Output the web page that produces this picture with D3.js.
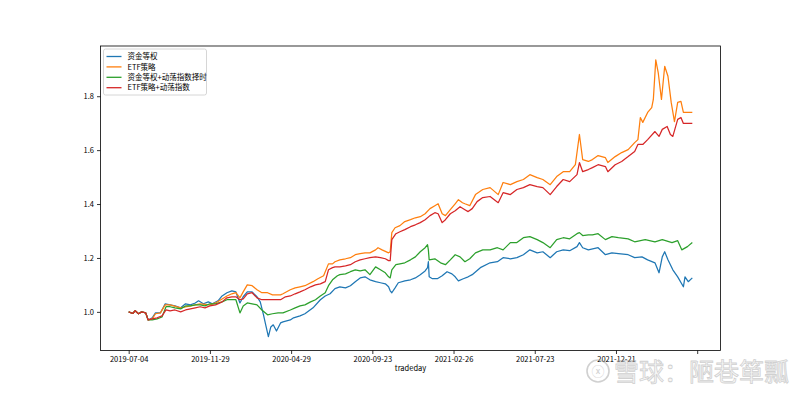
<!DOCTYPE html>
<html>
<head>
<meta charset="utf-8">
<script src="https://cdn.jsdelivr.net/npm/d3@7"></script>
<style>
  body { margin: 0; background: #fff; }
  svg { display: block; font-family: "Noto Sans CJK SC", sans-serif; }
</style>
</head>
<body>
<div id="chart"></div>
<script>
// x is the trading-day index, tick labels are the dates at every 100th day
const tickIdx = [0, 100, 200, 300, 400, 500, 600, 700]
const tickDates = ['2019-07-04', '2019-11-29', '2020-04-29', '2020-09-23', '2021-02-26', '2021-07-23', '2021-12-21', '']

const names = ['资金等权', 'ETF策略', '资金等权+动荡指数择时', 'ETF策略+动荡指数']
const colors = ['#1f77b4', '#ff7f0e', '#2ca02c', '#d62728']

// [trading-day index, net value]
const equalWeight = [[0,1.000],[5,0.994],[8,1.004],[12,0.993],[16,1.000],[21,0.996],[24,0.970],[29,0.978],[33,0.996],[39,0.996],[45,1.030],[51,1.026],[57,1.022],[64,1.015],[70,1.030],[76,1.026],[82,1.033],[86,1.041],[92,1.030],[98,1.037],[103,1.030],[110,1.041],[115,1.059],[121,1.071],[127,1.078],[132,1.074],[137,1.033],[141,1.056],[146,1.074],[152,1.074],[158,1.056],[162,1.037],[166,0.989],[169,0.948],[172,0.908],[175,0.944],[178,0.952],[182,0.929],[187,0.959],[190,0.963],[199,0.970],[203,0.978],[211,0.985],[217,0.993],[227,1.015],[236,1.045],[242,1.059],[248,1.067],[254,1.086],[260,1.093],[267,1.089],[273,1.097],[279,1.112],[285,1.126],[291,1.130],[297,1.119],[304,1.112],[310,1.108],[316,1.104],[320,1.093],[322,1.078],[324,1.071],[328,1.089],[332,1.108],[340,1.115],[347,1.119],[353,1.126],[359,1.138],[365,1.152],[368,1.164],[369,1.186],[370,1.130],[374,1.123],[380,1.123],[386,1.134],[392,1.149],[398,1.141],[402,1.130],[406,1.115],[412,1.123],[418,1.130],[423,1.138],[433,1.164],[445,1.182],[454,1.186],[461,1.201],[470,1.197],[478,1.201],[486,1.212],[494,1.230],[503,1.219],[510,1.223],[519,1.201],[527,1.223],[535,1.230],[543,1.227],[552,1.242],[555,1.257],[559,1.238],[566,1.230],[578,1.238],[587,1.212],[595,1.219],[603,1.216],[615,1.212],[623,1.201],[632,1.204],[639,1.193],[648,1.182],[653,1.145],[657,1.204],[660,1.223],[664,1.193],[670,1.156],[676,1.130],[683,1.093],[685,1.130],[689,1.112],[694,1.126]]

const etf = [[0,1.000],[5,0.994],[8,1.004],[12,0.993],[16,1.000],[21,0.996],[24,0.970],[29,0.974],[33,0.993],[39,0.996],[45,1.026],[51,1.026],[64,1.015],[76,1.022],[88,1.030],[100,1.026],[107,1.033],[115,1.048],[121,1.059],[127,1.067],[132,1.071],[137,1.052],[141,1.074],[146,1.100],[152,1.097],[158,1.082],[164,1.071],[171,1.071],[177,1.063],[187,1.063],[190,1.067],[199,1.082],[205,1.089],[211,1.093],[217,1.097],[227,1.112],[233,1.123],[240,1.134],[246,1.178],[251,1.178],[254,1.186],[260,1.193],[267,1.197],[273,1.201],[279,1.212],[285,1.216],[291,1.219],[297,1.219],[304,1.230],[307,1.238],[312,1.230],[320,1.219],[322,1.223],[324,1.294],[328,1.312],[334,1.320],[340,1.335],[347,1.342],[353,1.349],[359,1.353],[365,1.364],[371,1.383],[377,1.394],[381,1.401],[386,1.364],[390,1.357],[396,1.379],[402,1.401],[406,1.416],[411,1.405],[414,1.401],[420,1.394],[427,1.435],[436,1.454],[445,1.461],[455,1.435],[461,1.480],[470,1.472],[478,1.483],[486,1.491],[494,1.509],[503,1.498],[510,1.491],[519,1.472],[527,1.502],[535,1.520],[543,1.520],[550,1.546],[555,1.658],[559,1.565],[566,1.558],[571,1.565],[578,1.580],[587,1.572],[590,1.554],[599,1.576],[607,1.591],[615,1.602],[623,1.628],[627,1.639],[630,1.721],[633,1.703],[639,1.740],[644,1.758],[646,1.788],[649,1.935],[652,1.888],[656,1.788],[660,1.911],[664,1.874],[668,1.777],[672,1.706],[676,1.777],[680,1.781],[683,1.740],[694,1.740]]

const equalWeightTimed = [[0,1.000],[5,0.994],[8,1.004],[12,0.993],[16,1.000],[21,0.996],[24,0.970],[29,0.970],[35,0.974],[41,0.981],[46,1.019],[51,1.019],[57,1.015],[64,1.011],[70,1.022],[76,1.022],[82,1.026],[88,1.026],[94,1.022],[100,1.030],[107,1.030],[115,1.037],[121,1.045],[127,1.045],[132,1.045],[137,0.996],[141,1.022],[146,1.033],[152,1.030],[158,1.026],[164,1.007],[171,0.989],[177,0.993],[184,0.996],[190,0.996],[199,1.007],[205,1.015],[211,1.022],[217,1.026],[224,1.037],[230,1.045],[236,1.059],[242,1.071],[246,1.097],[251,1.119],[257,1.134],[260,1.138],[267,1.141],[273,1.149],[279,1.156],[285,1.152],[291,1.156],[297,1.138],[304,1.167],[310,1.156],[316,1.145],[320,1.130],[322,1.126],[324,1.156],[329,1.175],[334,1.178],[340,1.182],[347,1.193],[353,1.204],[359,1.223],[365,1.238],[368,1.249],[369,1.230],[370,1.193],[377,1.197],[384,1.182],[390,1.175],[396,1.193],[402,1.212],[408,1.204],[414,1.186],[420,1.197],[427,1.219],[436,1.230],[445,1.230],[454,1.238],[461,1.230],[470,1.257],[478,1.257],[486,1.275],[494,1.279],[503,1.268],[510,1.257],[519,1.238],[527,1.268],[535,1.275],[543,1.271],[552,1.290],[555,1.294],[559,1.283],[566,1.286],[571,1.286],[578,1.290],[587,1.268],[595,1.279],[603,1.275],[615,1.271],[623,1.260],[636,1.268],[648,1.260],[657,1.268],[669,1.257],[676,1.264],[681,1.230],[688,1.242],[694,1.257]]

const etfTimed = [[0,1.000],[5,0.994],[8,1.004],[12,0.993],[16,1.000],[21,0.996],[24,0.970],[29,0.974],[35,0.978],[41,0.985],[46,1.007],[51,1.004],[57,1.007],[64,1.000],[70,1.007],[76,1.011],[82,1.015],[88,1.019],[94,1.015],[100,1.022],[107,1.026],[115,1.037],[121,1.052],[127,1.056],[132,1.056],[137,1.045],[141,1.048],[146,1.067],[152,1.071],[158,1.052],[164,1.045],[171,1.045],[177,1.045],[187,1.045],[193,1.056],[199,1.059],[205,1.067],[211,1.074],[217,1.082],[224,1.093],[230,1.100],[236,1.104],[242,1.112],[246,1.156],[251,1.164],[254,1.167],[260,1.167],[267,1.171],[273,1.175],[279,1.186],[285,1.193],[291,1.197],[297,1.201],[304,1.204],[310,1.201],[316,1.197],[320,1.190],[322,1.190],[324,1.268],[329,1.290],[334,1.297],[340,1.305],[347,1.316],[353,1.323],[359,1.331],[365,1.342],[371,1.357],[377,1.368],[381,1.364],[386,1.331],[390,1.342],[396,1.364],[402,1.375],[408,1.390],[414,1.379],[418,1.372],[423,1.383],[429,1.409],[436,1.424],[445,1.428],[455,1.405],[461,1.442],[470,1.435],[478,1.454],[486,1.461],[494,1.472],[503,1.465],[510,1.461],[519,1.435],[527,1.465],[535,1.491],[543,1.483],[552,1.509],[555,1.554],[559,1.520],[566,1.528],[571,1.535],[578,1.546],[587,1.539],[590,1.520],[599,1.546],[607,1.558],[615,1.576],[623,1.595],[627,1.621],[633,1.621],[639,1.639],[648,1.669],[653,1.651],[657,1.677],[663,1.688],[667,1.658],[670,1.651],[676,1.714],[680,1.721],[683,1.699],[694,1.699]]

const series = [equalWeight, etf, equalWeightTimed, etfTimed]

const W = 800, H = 394
const margin = { left: 100.5, right: 79.5, top: 46, bottom: 43.5 }

const svg = d3.select('#chart').append('svg')
  .attr('width', W).attr('height', H)

// matplotlib-like 5% padding around the data
const xExt = [0, d3.max(series, s => d3.max(s, d => d[0]))]
const yExt = [d3.min(series, s => d3.min(s, d => d[1])), d3.max(series, s => d3.max(s, d => d[1]))]
const xPad = (xExt[1] - xExt[0]) * 0.05, yPad = (yExt[1] - yExt[0]) * 0.05

const x = d3.scaleLinear()
  .domain([xExt[0] - xPad, xExt[1] + xPad])
  .range([margin.left, W - margin.right])
const y = d3.scaleLinear()
  .domain([yExt[0] - yPad, yExt[1] + yPad])
  .range([H - margin.bottom, margin.top])

const line = d3.line().x(d => x(d[0])).y(d => y(d[1]))

svg.append('g').selectAll('path')
  .data(series)
  .join('path')
    .attr('d', line)
    .attr('fill', 'none')
    .attr('stroke', (d, i) => colors[i])
    .attr('stroke-width', 1.25)
    .attr('stroke-linejoin', 'round')

// axes
const xAxis = svg.append('g')
  .attr('transform', `translate(0,${H - margin.bottom})`)
  .call(d3.axisBottom(x).tickValues(tickIdx).tickFormat((d, i) => tickDates[i]).tickSize(3.5).tickPadding(3))
const yAxis = svg.append('g')
  .attr('transform', `translate(${margin.left},0)`)
  .call(d3.axisLeft(y).tickValues([1.0, 1.2, 1.4, 1.6, 1.8]).tickFormat(d3.format('.1f')).tickSize(3.5).tickPadding(3))

for (const g of [xAxis, yAxis]) {
  g.select('.domain').remove()
  g.selectAll('.tick line').attr('stroke', '#000').attr('stroke-width', 0.8)
  g.selectAll('.tick text').attr('fill', '#000').attr('font-size', 7.5)
    .attr('font-family', '"Noto Sans CJK SC", sans-serif')
}

// frame
svg.append('rect')
  .attr('x', margin.left).attr('y', margin.top)
  .attr('width', W - margin.left - margin.right)
  .attr('height', H - margin.top - margin.bottom)
  .attr('fill', 'none').attr('stroke', '#000').attr('stroke-width', 0.8)

svg.append('text')
  .attr('x', (margin.left + W - margin.right) / 2)
  .attr('y', 371)
  .attr('text-anchor', 'middle')
  .attr('font-size', 7.5)
  .text('tradeday')

// legend
const lg = svg.append('g').attr('transform', `translate(${margin.left + 3},49)`)
lg.append('rect')
  .attr('width', 103).attr('height', 46).attr('rx', 2)
  .attr('fill', '#fff').attr('fill-opacity', 0.8)
  .attr('stroke', '#ccc').attr('stroke-width', 0.8)
const items = lg.selectAll('g.item').data(names).join('g')
  .attr('class', 'item')
  .attr('transform', (d, i) => `translate(0,${7.5 + i * 10.4})`)
items.append('line')
  .attr('x1', 3).attr('x2', 18)
  .attr('stroke', (d, i) => colors[i]).attr('stroke-width', 1.3)
items.append('text')
  .attr('x', 24).attr('dy', '0.35em')
  .attr('font-size', 7.5)
  .text(d => d)

// watermark
const wm = svg.append('g').attr('opacity', 0.45)
wm.append('circle').attr('cx', 598).attr('cy', 371).attr('r', 11)
  .attr('fill', 'none').attr('stroke', '#999').attr('stroke-width', 1.6)
wm.append('text').attr('x', 598).attr('y', 371).attr('dy', '0.35em')
  .attr('text-anchor', 'middle').attr('font-size', 13).attr('fill', '#999').text('ⓧ')
wm.append('text')
  .attr('x', 614).attr('y', 381)
  .attr('font-size', 25)
  .attr('fill', '#eee').attr('stroke', '#999').attr('stroke-width', 0.8)
  .text('雪球：陋巷箪瓢')
</script>
</body>
</html>
